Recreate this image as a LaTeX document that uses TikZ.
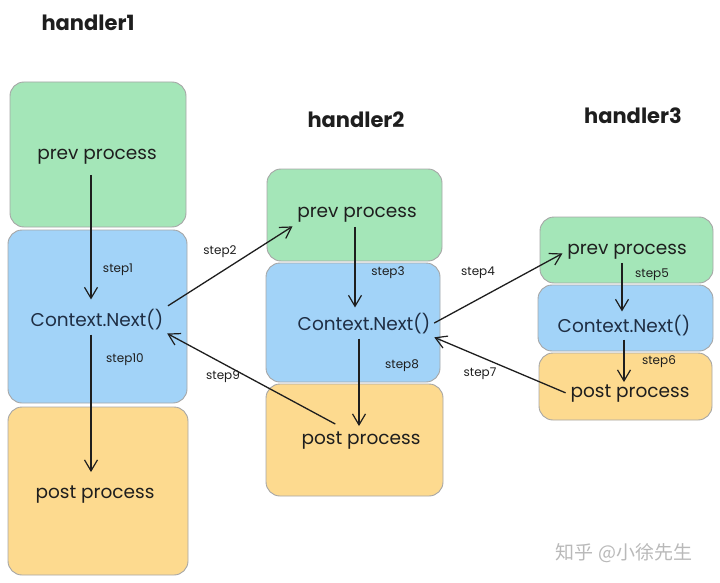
\documentclass[tikz,border=0pt]{standalone}
\usepackage{fontspec}
\setmainfont{Poppins}
\newfontfamily\cjkfont{Noto Sans CJK SC}
\usetikzlibrary{arrows.meta,calc}
\definecolor{prevfill}{HTML}{A4E6B8}
\definecolor{ctxfill}{HTML}{A2D3F8}
\definecolor{postfill}{HTML}{FDDA8F}
\definecolor{ink}{HTML}{1E1E1E}
\definecolor{ctxink}{HTML}{1F2E44}
\tikzset{>={Straight Barb[length=11pt,width=13pt,line width=1.2pt]},
  box/.style={draw=gray!70,line width=0.9pt,rounded corners=14pt,inner sep=0pt},
  boxtext/.style={text=ink,font=\fontsize{18.5}{20}\selectfont,inner sep=2pt},
  steplabel/.style={text=ink,font=\fontsize{12}{14}\selectfont},
  title/.style={text=ink,font=\fontsize{21}{24}\selectfont\bfseries},
  flow/.style={->,ink,line width=1.3pt}}

\begin{document}
\begin{tikzpicture}[x=1pt,y=-1pt]
    \useasboundingbox (0,0) rectangle (720,583);

    % handler1
    \node[title] at (88,23) (t1) {handler1};
    \node[box,fill=prevfill,minimum width=176pt,minimum height=145pt] at (98,154.5) (g1) {};
    \node[box,fill=ctxfill,minimum width=179pt,minimum height=173pt] at (97.5,316.5) (b1) {};
    \node[box,fill=postfill,minimum width=180pt,minimum height=168pt] at (98,491) (y1) {};
    \node[boxtext] at (97,157) (p1) {prev process};
    \node[boxtext,text=ctxink] at (97,320) (c1) {Context.Next()};
    \node[boxtext] at (95,495) (q1) {post process};

    % handler2
    \node[title] at (356,120) (t2) {handler2};
    \node[box,fill=prevfill,minimum width=175pt,minimum height=92pt] at (354.5,215) (g2) {};
    \node[box,fill=ctxfill,minimum width=174pt,minimum height=119pt] at (353,322.5) (b2) {};
    \node[box,fill=postfill,minimum width=177pt,minimum height=112pt] at (354.5,440) (y2) {};
    \node[boxtext] at (357,215) (p2) {prev process};
    \node[boxtext,text=ctxink] at (364,324) (c2) {Context.Next()};
    \node[boxtext] at (361,441) (q2) {post process};

    % handler3
    \node[title] at (633,116) (t3) {handler3};
    \node[box,fill=prevfill,minimum width=173pt,minimum height=66pt] at (626.5,250) (g3) {};
    \node[box,fill=ctxfill,minimum width=175pt,minimum height=66pt] at (625.5,318) (b3) {};
    \node[box,fill=postfill,minimum width=173pt,minimum height=67pt] at (625.5,386.5) (y3) {};
    \node[boxtext] at (627,252) (p3) {prev process};
    \node[boxtext,text=ctxink] at (624,326) (c3) {Context.Next()};
    \node[boxtext] at (630,394) (q3) {post process};

    % calls inside each handler
    \draw[flow,shorten <=8pt,shorten >=8pt] ([xshift=-6pt]p1.south) -- ([xshift=-6pt]p1.south |- c1.north);
    \draw[flow,shorten <=2pt,shorten >=12pt] ([xshift=-6pt]c1.south) -- ([xshift=-6pt]c1.south |- q1.north);
    \draw[flow,shorten <=2pt,shorten >=4pt] ([xshift=-2pt]p2.south) -- ([xshift=-2pt]p2.south |- c2.north);
    \draw[flow,shorten <=2pt,shorten >=4pt] ([xshift=-5pt]c2.south) -- ([xshift=-5pt]c2.south |- q2.north);
    \draw[flow,shorten <=1pt,shorten >=2pt] ([xshift=-5pt]p3.south) -- ([xshift=-5pt]p3.south |- c3.north);
    \draw[flow,shorten <=1pt,shorten >=1pt] (c3.south) -- (c3.south |- q3.north);

    % calls between handlers
    \draw[flow,shorten <=3pt,shorten >=3pt] (c1.north east) -- (p2.south west);
    \draw[flow,shorten >=2pt] ($(q2.north west)+(36,-6)$) -- (c1.south east);
    \draw[flow,shorten <=2pt,shorten >=3pt] (c2.east) -- (p3.west);
    \draw[flow,shorten <=3pt,shorten >=2pt] (q3.west) -- (c2.south east);

    \node[steplabel] at (118,270) (s1) {step1};
    \node[steplabel] at (220,252) (s2) {step2};
    \node[steplabel] at (388,273) (s3) {step3};
    \node[steplabel] at (478,273) (s4) {step4};
    \node[steplabel] at (652,275) (s5) {step5};
    \node[steplabel] at (659,362) (s6) {step6};
    \node[steplabel] at (480,374) (s7) {step7};
    \node[steplabel] at (402,366) (s8) {step8};
    \node[steplabel] at (223,377) (s9) {step9};
    \node[steplabel] at (125,360) (s10) {step10};

    \node[text=gray!55,font=\cjkfont\fontsize{19}{22}\selectfont] at (624,553) (mark) {知乎 @小徐先生};
\end{tikzpicture}
\end{document}
